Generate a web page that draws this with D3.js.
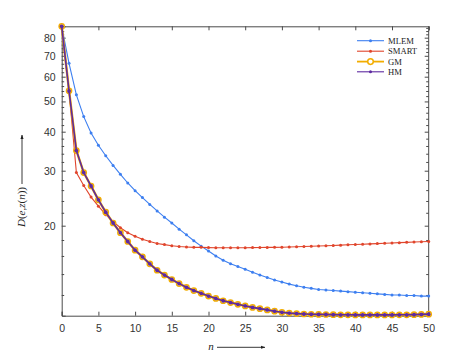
<!DOCTYPE html>
<html><head><meta charset="utf-8">
<script src="https://cdn.jsdelivr.net/npm/d3@7"></script>
<style>
html,body{margin:0;padding:0;background:#fff;}
svg{display:block;}
</style>
</head><body>
<svg id="chart" width="474" height="355"></svg>
<script>
const n = d3.range(0, 51);
const mlem = [87, 66.2, 52.5, 44.7, 39.6, 36.2, 33.5, 31.2, 29.2, 27.4,
  25.9, 24.6, 23.4, 22.3, 21.3, 20.4, 19.5, 18.7, 17.9, 17.2,
  16.6, 16.0, 15.5, 15.1, 14.8, 14.5, 14.2, 13.9, 13.65, 13.4,
  13.2, 13.0, 12.85, 12.7, 12.6, 12.5, 12.45, 12.4, 12.35, 12.3,
  12.25, 12.2, 12.15, 12.1, 12.05, 12.0, 12.0, 11.95, 11.95, 11.9, 11.9];
const smart = [87, 54.1, 29.6, 26.9, 24.7, 23.1, 21.7, 20.6, 19.7, 19.0,
  18.5, 18.1, 17.8, 17.55, 17.4, 17.25, 17.15, 17.1, 17.05, 17.05,
  17.02, 17.0, 17.0, 17.0, 17.0, 17.0, 17.02, 17.03, 17.04, 17.05,
  17.07, 17.1, 17.12, 17.15, 17.18, 17.21, 17.25, 17.29, 17.33, 17.37,
  17.41, 17.45, 17.49, 17.53, 17.57, 17.61, 17.65, 17.69, 17.73, 17.77, 17.8];
const gm = [87, 54.1, 34.8, 29.6, 26.8, 24.2, 22.1, 20.4, 19.0, 17.8,
  16.7, 15.9, 15.1, 14.4, 13.9, 13.45, 13.05, 12.7, 12.4, 12.15,
  11.9, 11.7, 11.5, 11.35, 11.2, 11.07, 10.95, 10.85, 10.75, 10.65,
  10.56, 10.5, 10.46, 10.43, 10.41, 10.4, 10.39, 10.38, 10.37, 10.37,
  10.36, 10.36, 10.36, 10.36, 10.36, 10.36, 10.37, 10.37, 10.38, 10.4, 10.42];
const hm = [87, 54.0, 34.8, 29.6, 26.8, 24.2, 22.1, 20.4, 19.0, 17.8,
  16.7, 15.9, 15.1, 14.4, 13.9, 13.45, 13.05, 12.7, 12.4, 12.15,
  11.9, 11.7, 11.5, 11.35, 11.2, 11.07, 10.95, 10.85, 10.75, 10.65,
  10.56, 10.5, 10.46, 10.43, 10.41, 10.4, 10.39, 10.38, 10.37, 10.37,
  10.36, 10.36, 10.36, 10.36, 10.36, 10.36, 10.37, 10.37, 10.38, 10.4, 10.42];
const seriesNames = ["MLEM", "SMART", "GM", "HM"];
const xTicks = [0, 5, 10, 15, 20, 25, 30, 35, 40, 45, 50];
const yTicks = [20, 30, 40, 50, 60, 70, 80];
const yMinorTicks = d3.range(12, 88, 2).filter(v => !yTicks.includes(v));

const colors = {MLEM: "#3d7ff0", SMART: "#e0452c", GM: "#f2ad00", HM: "#5e2aa0"};

const svg = d3.select("#chart");
const L = 61.7, R = 428.7, T = 26.3, B = 315.7;
const x = d3.scaleLinear().domain([0, 50]).range([L, R]);
const y = d3.scaleLog().domain([10.3, 87]).range([B, T]);

const axisColor = "#4a4a4a";
const tickFont = "'Liberation Sans', Arial, sans-serif";

// axes with inward ticks
const gx = svg.append("g").attr("transform", `translate(0,${B})`)
  .call(d3.axisBottom(x).tickValues(xTicks).tickSize(-4).tickPadding(9).tickFormat(d3.format("d")));
const gxTop = svg.append("g").attr("transform", `translate(0,${T})`)
  .call(d3.axisTop(x).tickValues(xTicks).tickSize(-4).tickFormat(""));
const gy = svg.append("g").attr("transform", `translate(${L},0)`)
  .call(d3.axisLeft(y).tickValues(yTicks).tickSize(-4).tickPadding(6).tickFormat(d3.format("d")));
const gyR = svg.append("g").attr("transform", `translate(${R},0)`)
  .call(d3.axisRight(y).tickValues(yTicks).tickSize(-4).tickFormat(""));
const gyMin = svg.append("g").attr("transform", `translate(${L},0)`)
  .call(d3.axisLeft(y).tickValues(yMinorTicks).tickSize(-2.5).tickFormat(""));
const gyRMin = svg.append("g").attr("transform", `translate(${R},0)`)
  .call(d3.axisRight(y).tickValues(yMinorTicks).tickSize(-2.5).tickFormat(""));

[gx, gxTop, gy, gyR, gyMin, gyRMin].forEach(g => {
  g.select(".domain").attr("stroke", axisColor).attr("stroke-width", 1);
  g.selectAll(".tick line").attr("stroke", axisColor);
  g.selectAll("text").attr("fill", "#333").style("font-family", tickFont).style("font-size", "10.5px");
});
[gyMin, gyRMin, gyR].forEach(g => g.select(".domain").remove());
gyR.select(".domain").remove();
svg.append("line").attr("x1", R).attr("x2", R).attr("y1", T).attr("y2", B)
  .attr("stroke", axisColor);

// series
const data = {MLEM: mlem, SMART: smart, GM: gm, HM: hm};
const line = d3.line().x((d, i) => x(n[i])).y(d => y(d));
const widths = {MLEM: 1.1, SMART: 1.1, GM: 2.4, HM: 1.6};

const plot = svg.append("g");
seriesNames.forEach(name => {
  const vals = data[name];
  plot.append("path").attr("d", line(vals)).attr("fill", "none")
    .attr("stroke", colors[name]).attr("stroke-width", widths[name]);
  if (name === "GM") {
    plot.selectAll(null).data(vals).enter().append("circle")
      .attr("cx", (d, i) => x(n[i])).attr("cy", d => y(d)).attr("r", 2.6)
      .attr("fill", "none").attr("stroke", colors[name]).attr("stroke-width", 1.5);
  } else {
    plot.selectAll(null).data(vals).enter().append("circle")
      .attr("cx", (d, i) => x(n[i])).attr("cy", d => y(d))
      .attr("r", name === "HM" ? 1.9 : 1.5)
      .attr("fill", colors[name]);
  }
});

// legend
const lg = svg.append("g");
const legY = [40.7, 51.2, 61.6, 71.8];
seriesNames.forEach((name, i) => {
  const yy = legY[i];
  lg.append("line").attr("x1", 357).attr("x2", 384).attr("y1", yy).attr("y2", yy)
    .attr("stroke", colors[name]).attr("stroke-width", name === "GM" ? 1.8 : 1.1);
  if (name === "GM") {
    lg.append("circle").attr("cx", 370.5).attr("cy", yy).attr("r", 2.8)
      .attr("fill", "#fff").attr("stroke", colors[name]).attr("stroke-width", 1.5);
  } else {
    lg.append("circle").attr("cx", 370.5).attr("cy", yy).attr("r", 1.5).attr("fill", colors[name]);
  }
  lg.append("text").attr("x", 388).attr("y", yy + 3).text(name)
    .style("font-family", "'Liberation Serif', 'Times New Roman', serif")
    .style("font-size", "8.6px").attr("fill", "#222");
});

// arrow marker
const defs = svg.append("defs");
defs.append("marker").attr("id", "arr").attr("viewBox", "0 0 10 10")
  .attr("refX", 9).attr("refY", 5).attr("markerWidth", 5).attr("markerHeight", 5)
  .attr("orient", "auto")
  .append("path").attr("d", "M0,1.5 L10,5 L0,8.5 Z").attr("fill", "#222");

// x label
svg.append("text").attr("x", 211).attr("y", 350).attr("text-anchor", "middle")
  .style("font-family", "'Liberation Serif', serif").style("font-style", "italic")
  .style("font-size", "11px").attr("fill", "#222").text("n");
svg.append("line").attr("x1", 217).attr("x2", 265).attr("y1", 347.3).attr("y2", 347.3)
  .attr("stroke", "#222").attr("stroke-width", 0.9).attr("marker-end", "url(#arr)");

// y label
const yl = svg.append("text").attr("transform", "translate(25,207) rotate(-90)")
  .attr("text-anchor", "middle")
  .style("font-family", "'Liberation Serif', serif").style("font-size", "11px").attr("fill", "#222");
yl.append("tspan").style("font-style", "italic").text("D");
yl.append("tspan").text("(");
yl.append("tspan").style("font-style", "italic").text("e");
yl.append("tspan").text(",");
yl.append("tspan").style("font-style", "italic").text("z");
yl.append("tspan").text("(");
yl.append("tspan").style("font-style", "italic").text("n");
yl.append("tspan").text("))");
svg.append("line").attr("x1", 22).attr("x2", 22).attr("y1", 184).attr("y2", 135)
  .attr("stroke", "#222").attr("stroke-width", 0.9).attr("marker-end", "url(#arr)");
</script>
</body></html>
